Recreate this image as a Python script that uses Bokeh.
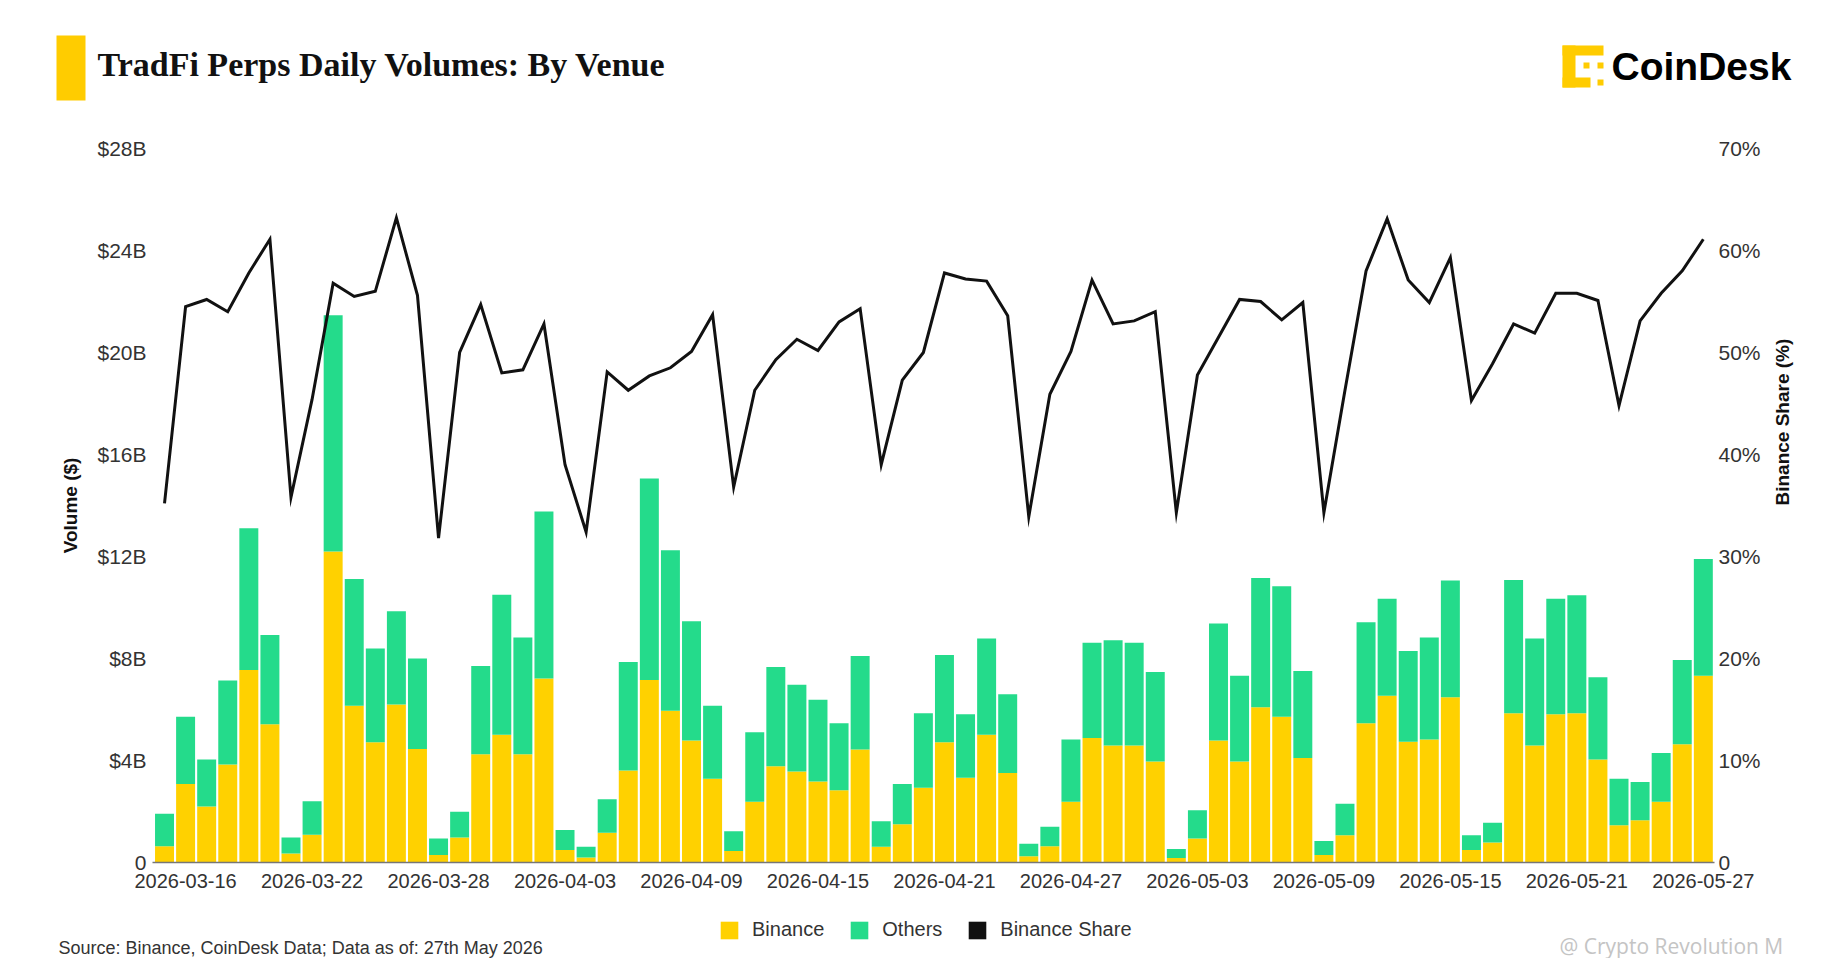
import math
import pandas as pd
from bokeh.plotting import figure
from bokeh.layouts import column
from bokeh.models import (ColumnDataSource, Range1d, LinearAxis, FixedTicker,
                          DatetimeTickFormatter, PrintfTickFormatter, Legend,
                          LegendItem, Label, BoxAnnotation)
from bokeh.embed import file_html
from bokeh.resources import INLINE

# ---------------- data ----------------
dates = pd.date_range("2026-03-15", "2026-05-27", freq="D")

# Binance daily volume ($B)
binance = [0.64, 3.08, 2.20, 3.84, 7.55, 5.42, 0.35, 1.09, 12.20, 6.15,
           4.72, 6.20, 4.45, 0.29, 0.98, 4.25, 5.01,
           4.25, 7.22, 0.49, 0.20, 1.17, 3.61, 7.16, 5.95, 4.78, 3.28,
           0.45, 2.38, 3.77, 3.57, 3.18, 2.83, 4.43, 0.62, 1.50, 2.93,
           4.72, 3.32, 5.01, 3.51, 0.25, 0.64, 2.38, 4.88, 4.59, 4.59,
           3.96, 0.18, 0.94, 4.78, 3.96, 6.09, 5.72, 4.10, 0.29, 1.07,
           5.46, 6.54, 4.74, 4.82, 6.48, 0.49, 0.78, 5.85, 4.59, 5.81,
           5.85, 4.04, 1.46, 1.66, 2.38, 4.64, 7.32]

# Other venues daily volume ($B)
others = [1.27, 2.64, 1.84, 3.30, 5.56, 3.50, 0.63, 1.31, 9.26, 4.97,
          3.67, 3.65, 3.55, 0.65, 1.01, 3.46, 5.49,
          4.57, 6.54, 0.78, 0.42, 1.31, 4.25, 7.90, 6.30, 4.68, 2.87,
          0.78, 2.73, 3.90, 3.40, 3.20, 2.63, 3.67, 1.00, 1.58, 2.92,
          3.42, 2.49, 3.77, 3.09, 0.49, 0.76, 2.44, 3.74, 4.13, 4.03,
          3.51, 0.35, 1.11, 4.59, 3.36, 5.07, 5.11, 3.41, 0.55, 1.23,
          3.96, 3.80, 3.55, 4.00, 4.58, 0.58, 0.78, 5.23, 4.19, 4.53,
          4.63, 3.22, 1.82, 1.50, 1.91, 3.30, 4.58]

# Binance share (%)
share = [35.2, 54.5, 55.2, 54.0, 57.8, 61.1, 35.8, 45.4, 56.8, 55.5,
         56.0, 63.2, 55.6, 31.8, 50.0, 54.7, 48.0,
         48.3, 52.8, 39.0, 32.4, 48.1, 46.3, 47.7, 48.5, 50.1, 53.7,
         36.8, 46.3, 49.3, 51.3, 50.2, 53.0, 54.3, 39.0, 47.3, 50.0,
         57.8, 57.2, 57.0, 53.6, 33.9, 45.9, 50.1, 57.1, 52.8, 53.1,
         54.0, 34.3, 47.8, 51.5, 55.2, 55.0, 53.2, 54.9, 34.3, 46.3,
         58.0, 63.1, 57.1, 54.9, 59.3, 45.3, 48.9, 52.8, 51.9, 55.8,
         55.8, 55.1, 44.8, 53.1, 55.8, 58.0, 61.1]

x_tick_labels = ["2026-03-16", "2026-03-22", "2026-03-28", "2026-04-03",
                 "2026-04-09", "2026-04-15", "2026-04-21", "2026-04-27",
                 "2026-05-03", "2026-05-09", "2026-05-15", "2026-05-21",
                 "2026-05-27"]
vol_ticks = [0, 4, 8, 12, 16, 20, 24, 28]
share_ticks = [0, 10, 20, 30, 40, 50, 60, 70]

series_names = ["Binance", "Others", "Binance Share"]
YELLOW = "#FFD100"
GREEN = "#24DB8B"
BLACK = "#111111"
BRAND = "#FFCC00"

title_text = "TradFi Perps Daily Volumes: By Venue"
source_text = "Source: Binance, CoinDesk Data; Data as of: 27th May 2026"
watermark_text = "@ Crypto Revolution M"

W = 1810
HEAD_H, MAIN_H, FOOT_H = 128, 774, 56

src = ColumnDataSource(dict(date=dates, binance=binance, others=others, share=share))


def no_align(fig):
    try:
        fig.frame_align = False
    except Exception:
        pass


def bare(height):
    f = figure(width=W, height=height, x_range=Range1d(0, W), y_range=Range1d(height, 0),
               x_axis_type=None, y_axis_type=None, min_border=0,
               output_backend="svg", toolbar_location=None)
    f.outline_line_color = None
    f.grid.visible = False
    no_align(f)
    return f


# ---------------- header ----------------
head = bare(HEAD_H)


def box(fig, l, r, t, b, color):
    fig.add_layout(BoxAnnotation(left=l, right=r, top=t, bottom=b,
                                 fill_color=color, fill_alpha=1.0, line_alpha=0))


box(head, 56, 85, 35, 100, BRAND)
head.add_layout(Label(x=97, y=64, text=title_text, text_font="Liberation Serif",
                      text_font_size="34px", text_font_style="bold",
                      text_color="#111111", text_baseline="middle"))
# CoinDesk logo
box(head, 1562, 1603, 45, 55, BRAND)
box(head, 1562, 1575, 45, 87, BRAND)
box(head, 1562, 1590, 77, 87, BRAND)
box(head, 1583, 1589, 62, 68, BRAND)
box(head, 1597, 1603, 62, 68, BRAND)
box(head, 1597, 1603, 79, 85, BRAND)
head.add_layout(Label(x=1611, y=66, text="CoinDesk", text_font="Liberation Sans",
                      text_font_size="39px", text_font_style="bold",
                      text_color="#000000", text_baseline="middle"))

# ---------------- main chart ----------------
DAY = pd.Timedelta(days=1)
x_start = dates[0] - 0.57 * DAY
x_end = dates[-1] + 0.53 * DAY

p = figure(width=W, height=MAIN_H, x_axis_type="datetime",
           x_range=Range1d(x_start, x_end), y_range=Range1d(0, 28),
           output_backend="svg", toolbar_location=None,
           min_border_left=152, min_border_right=W - 1714,
           min_border_top=20, min_border_bottom=40)
p.outline_line_color = None
p.grid.visible = False
no_align(p)

bar_w = 0.9 * 86400000
r_b, r_o = p.vbar_stack(["binance", "others"], x="date", width=bar_w,
                        fill_color=[YELLOW, GREEN], line_color=None, source=src)

p.extra_y_ranges = {"share": Range1d(0, 70)}
r_line = p.line(x="date", y="share", source=src, y_range_name="share",
                line_color=BLACK, line_width=3, line_join="miter")

xa = p.xaxis[0]
xa.ticker = FixedTicker(ticks=[pd.Timestamp(s).timestamp() * 1000 for s in x_tick_labels])
fmt = "%Y-%m-%d"
xa.formatter = DatetimeTickFormatter(days=fmt, months=fmt, years=fmt, hours=fmt,
                                     hourmin=fmt, minutes=fmt, minsec=fmt,
                                     seconds=fmt, milliseconds=fmt, microseconds=fmt)
xa.major_label_text_font = "Liberation Sans"
xa.major_label_text_font_size = "20px"
xa.major_label_text_color = "#333333"
xa.major_tick_out = 0
xa.major_tick_in = 0
xa.major_label_standoff = 11
xa.major_tick_line_color = None
xa.minor_tick_line_color = None
xa.axis_line_color = "#777777"
xa.axis_line_width = 1.5

ya = p.yaxis[0]
ya.ticker = FixedTicker(ticks=vol_ticks)
ya.formatter = PrintfTickFormatter(format="$%dB")
ya.major_label_overrides = {0: "0"}
ya.axis_label = "Volume ($)"

ar = LinearAxis(y_range_name="share", ticker=FixedTicker(ticks=share_ticks),
                formatter=PrintfTickFormatter(format="%d%%"),
                axis_label="Binance Share (%)")
ar.major_label_overrides = {0: "0"}
p.add_layout(ar, "right")
try:
    ar.axis_label_orientation = math.pi / 2
except Exception:
    pass

for ax in (ya, ar):
    ax.major_label_text_font = "Liberation Sans"
    ax.major_label_text_font_size = "21px"
    ax.major_label_text_color = "#333333"
    ax.major_tick_out = 0
    ax.major_tick_in = 0
    ax.major_tick_line_color = None
    ax.minor_tick_line_color = None
    ax.axis_line_color = None
    ax.axis_label_text_font = "Liberation Sans"
    ax.axis_label_text_font_size = "19px"
    ax.axis_label_text_font_style = "bold"
    ax.axis_label_text_color = "#111111"
ya.major_label_standoff = 6
ya.axis_label_standoff = 13
ar.major_label_standoff = 4
ar.axis_label_standoff = 19

# ---------------- footer: legend + source ----------------
foot = bare(FOOT_H)
f_b = foot.vbar(x="date", top="binance", source=src, width=1, fill_color=YELLOW,
                line_color=None, visible=False)
f_o = foot.vbar(x="date", top="others", source=src, width=1, fill_color=GREEN,
                line_color=None, visible=False)
f_s = foot.vbar(x="date", top="share", source=src, width=1, fill_color=BLACK,
                line_color=None, visible=False)
legend = Legend(items=[LegendItem(label=series_names[0], renderers=[f_b]),
                       LegendItem(label=series_names[1], renderers=[f_o]),
                       LegendItem(label=series_names[2], renderers=[f_s])],
                orientation="horizontal", location=(708, 7))
legend.glyph_width = 22
legend.glyph_height = 22
legend.label_standoff = 12
legend.spacing = 24
legend.margin = 0
legend.padding = 10
legend.label_text_font = "Liberation Sans"
legend.label_text_font_size = "20px"
legend.label_text_color = "#333333"
legend.border_line_alpha = 0
legend.background_fill_alpha = 0
legend.inactive_fill_alpha = 0
foot.add_layout(legend)

foot.add_layout(Label(x=58, y=45, text=source_text, text_font="Liberation Sans",
                      text_font_size="18px", text_color="#333333",
                      text_baseline="middle"))
foot.add_layout(Label(x=1559, y=43, text=watermark_text, text_font="Open Sans",
                      text_font_size="21px", text_color="#C4C4C4",
                      text_baseline="middle"))

layout = column(head, p, foot, spacing=0)
open("out.html", "w").write(file_html(layout, INLINE))
